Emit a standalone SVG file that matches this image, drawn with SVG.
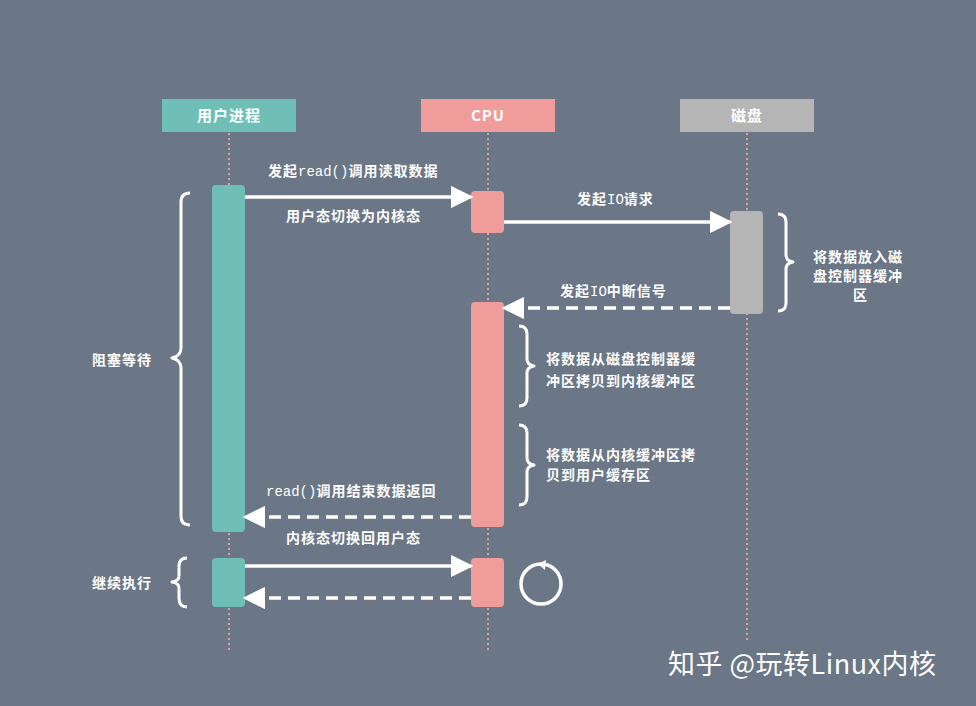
<svg xmlns="http://www.w3.org/2000/svg" width="976" height="706" viewBox="0 0 976 706">
<defs>
<style>
text{font-family:"Noto Sans CJK SC","Liberation Sans",sans-serif;fill:#fff;font-size:14px;font-weight:bold;letter-spacing:1px}
.hd{font-size:15px;text-anchor:middle}
.ll{stroke:#d9a0a0;stroke-width:2;stroke-dasharray:2 3}
.a{stroke:#fff;stroke-width:3.5;fill:none}
.d{stroke-dasharray:12 7}
.br{stroke:#fff;stroke-width:3;fill:none;stroke-linejoin:round}
.mono{font-family:"Liberation Mono","Noto Sans CJK SC",monospace;font-weight:normal;letter-spacing:0}
</style>
<marker id="ah" viewBox="0 0 10 10" refX="9" refY="5" markerWidth="6.5" markerHeight="6.5" orient="auto"><path d="M0,0L10,5L0,10z" fill="#fff"/></marker>
</defs>
<rect width="976" height="706" fill="#6b7686"/>
<g id="lifelines">
<line class="ll" x1="229" y1="133" x2="229" y2="650" stroke="#8cc"/>
<line class="ll" x1="488" y1="133" x2="488" y2="650"/>
<line class="ll" x1="747" y1="133" x2="747" y2="640" stroke="#bbb"/>
</g>
<g id="user"><rect x="162" y="99" width="134" height="33" fill="#6fbfb7"/><text class="hd" x="229" y="121">用户进程</text></g>
<g id="cpu"><rect x="421" y="99" width="134" height="33" fill="#f09c9a"/><text class="hd" x="488" y="121">CPU</text></g>
<g id="disk"><rect x="680" y="99" width="134" height="33" fill="#b5b5b5"/><text class="hd" x="747" y="121">磁盘</text></g>
<g id="activations">
<rect x="212" y="185" width="33" height="347" rx="4" fill="#6fbfb7"/>
<rect x="212" y="558" width="33" height="49" rx="4" fill="#6fbfb7"/>
<rect x="471" y="191" width="33" height="42" rx="4" fill="#f09c9a"/>
<rect x="471" y="302" width="33" height="225" rx="4" fill="#f09c9a"/>
<rect x="471" y="558" width="33" height="49" rx="4" fill="#f09c9a"/>
<rect x="730" y="211" width="33" height="103" rx="4" fill="#b5b5b5"/>
</g>
<g id="connectors">
<line class="a" x1="245" y1="197" x2="471" y2="197" marker-end="url(#ah)"/>
<line class="a" x1="504" y1="222" x2="730" y2="222" marker-end="url(#ah)"/>
<line class="a d" x1="730" y1="308" x2="504" y2="308" marker-end="url(#ah)"/>
<line class="a d" x1="471" y1="517" x2="245" y2="517" marker-end="url(#ah)"/>
<line class="a" x1="245" y1="566" x2="471" y2="566" marker-end="url(#ah)"/>
<line class="a d" x1="471" y1="598" x2="245" y2="598" marker-end="url(#ah)"/>
</g>
<g id="labels">
<text x="268" y="176">发起<tspan class="mono">read()</tspan>调用读取数据</text>
<text x="286" y="221">用户态切换为内核态</text>
<text x="577" y="204">发起<tspan class="mono">IO</tspan>请求</text>
<text x="560" y="296">发起<tspan class="mono">IO</tspan>中断信号</text>
<text x="266" y="496"><tspan class="mono">read()</tspan>调用结束数据返回</text>
<text x="286" y="543">内核态切换回用户态</text>
<text x="546" y="364">将数据从磁盘控制器缓</text>
<text x="546" y="386">冲区拷贝到内核缓冲区</text>
<text x="546" y="460">将数据从内核缓冲区拷</text>
<text x="546" y="480">贝到用户缓存区</text>
<text x="813" y="262">将数据放入磁</text>
<text x="813" y="281">盘控制器缓冲</text>
<text x="853" y="300">区</text>
<text x="92" y="365">阻塞等待</text>
<text x="92" y="588">继续执行</text>
</g>
<g id="braces">
<path class="br" d="M190,193 Q181,193 181,202 L181,348 Q181,356 172,358 Q181,360 181,368 L181,516 Q181,525 190,525"/>
<path class="br" d="M187,558 Q179,558 179,566 L179,576 Q179,581 172,582 Q179,583 179,588 L179,598 Q179,607 187,607"/>
<path class="br" d="M778,214 Q786,214 786,222 L786,255 Q786,261 793,262 Q786,263 786,269 L786,303 Q786,311 778,311"/>
<path class="br" d="M519,326 Q527,326 527,334 L527,359 Q527,365 534,366 Q527,367 527,373 L527,398 Q527,406 519,406"/>
<path class="br" d="M519,425 Q527,425 527,433 L527,458 Q527,464 534,465 Q527,466 527,472 L527,497 Q527,505 519,505"/>
</g>
<g id="loop">
<circle cx="541" cy="584" r="20" fill="none" stroke="#fff" stroke-width="3.5"/>
<path d="M546,560 L538,564 L545,570z" fill="#fff"/>
</g>
<text x="668" y="674" style="font-size:27px;font-weight:normal;letter-spacing:0.5px">知乎 @玩转Linux内核</text>
</svg>
